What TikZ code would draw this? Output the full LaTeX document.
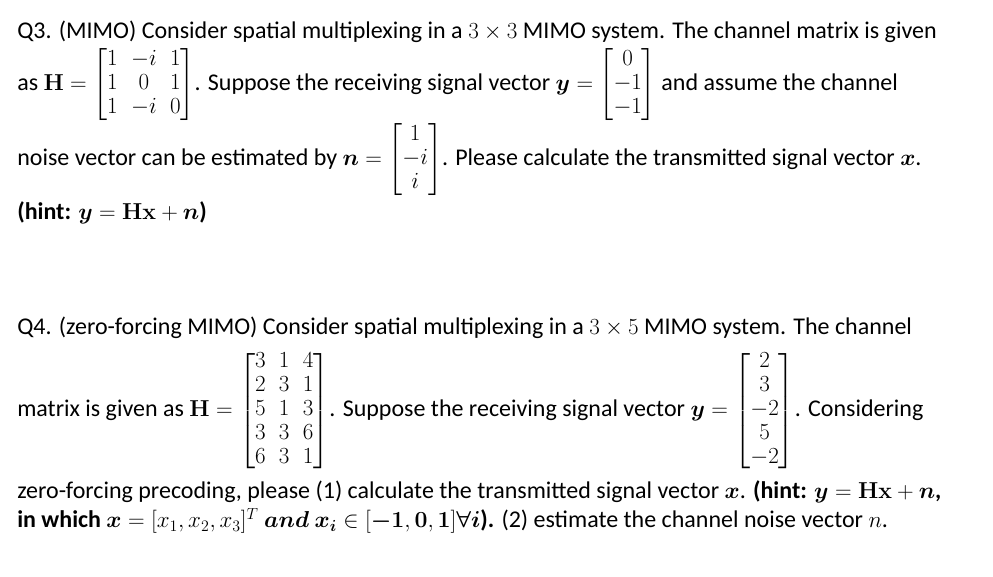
\documentclass[tikz,border=0pt]{standalone}
\usepackage{amsmath,amssymb,bm}
\usepackage[no-math]{fontspec}
\setmainfont{Carlito}
\renewcommand{\arraystretch}{0.82}
\begin{document}
\begin{tikzpicture}[x=0.75pt,y=-0.75pt,line/.style={anchor=west,inner sep=0pt,font=\fontsize{18}{22}\selectfont}]
\useasboundingbox (0,0) rectangle (993,576);
\node[line] (l1) at (17,32) {Q3. (MIMO) Consider spatial multiplexing in a $3\times 3$ MIMO system. The channel matrix is given};
\node[line] (l2) at (17,85) {as $\mathbf{H}=\begin{bmatrix}1&-i&1\\1&0&1\\1&-i&0\end{bmatrix}$. Suppose the receiving signal vector $\bm{y}=\begin{bmatrix}0\\-1\\-1\end{bmatrix}$ and assume the channel};
\node[line] (l3) at (17,160) {noise vector can be estimated by $\bm{n}=\begin{bmatrix}1\\-i\\i\end{bmatrix}$. Please calculate the transmitted signal vector $\bm{x}$.};
\node[line] (l4) at (17,213) {\bfseries (hint: $\bm{y}=\mathbf{Hx}+\bm{n}$)};
\node[line] (l5) at (17,328) {Q4. (zero-forcing MIMO) Consider spatial multiplexing in a $3\times 5$ MIMO system. The channel};
\node[line] (l6) at (17,411) {matrix is given as $\mathbf{H}=\begin{bmatrix}3&1&4\\2&3&1\\5&1&3\\3&3&6\\6&3&1\end{bmatrix}$. Suppose the receiving signal vector $\bm{y}=\begin{bmatrix}2\\3\\-2\\5\\-2\end{bmatrix}$. Considering};
\node[line] (l7) at (17,492) {zero-forcing precoding, please (1) calculate the transmitted signal vector $\bm{x}$. \textbf{(hint: $\bm{y}=\mathbf{Hx}+\bm{n}$,}};
\node[line] (l8) at (17,521) {\textbf{in which $\bm{x}=[x_1,x_2,x_3]^T\ \bm{and}\ \bm{x_i}\in[\bm{-1},\bm{0},\bm{1}]\bm{\forall i}$).} (2) estimate the channel noise vector $n$.};
\end{tikzpicture}
\end{document}
